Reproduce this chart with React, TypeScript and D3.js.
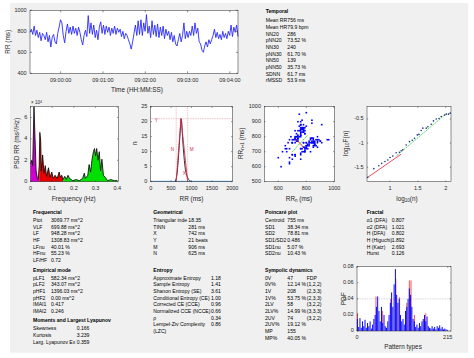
import React from "react";
import * as d3 from "d3";

// ---------------- data ----------------
const recordingStart = new Date(2020, 0, 1, 8, 59, 16, 500);
const recordingSeconds = 295;
const rrValues = [
  790, 820, 770, 850, 760, 810, 740, 790, 710, 780,
  760, 720, 790, 700, 760, 650, 740, 770, 700, 680,
  780, 840, 910, 880, 760, 690, 800, 870, 780, 840,
  770, 850, 780, 830, 760, 840, 790, 720, 670, 760,
  810, 750, 950, 780, 880, 770, 860, 740, 810, 720,
  840, 890, 780, 860, 770, 850, 790, 840, 760, 830,
  780, 850, 770, 830, 790, 820, 750, 800, 730, 780,
  760, 720, 680, 630, 700, 780, 860, 760, 900, 770,
  910, 760, 880, 800, 960, 780, 850, 740, 900, 770,
  860, 750, 870, 740, 840, 760, 850, 730, 820, 760,
  800, 720, 790, 700, 760, 680, 660, 720, 780, 700,
  760, 880, 730, 800, 740, 800, 760, 850, 760, 880,
  780, 830, 700, 680, 620, 600, 660, 700, 650, 720,
  680, 720, 760, 820, 740, 790, 730, 770, 720, 800,
  740, 780, 730, 800, 760, 860, 750, 840, 790, 860,
  750,
];
const rrTicks = [400, 600, 800, 1000];

const temporalLabels = ["Mean RR", "Mean HR", "NN20", "pNN20", "NN30", "pNN30", "NN50", "pNN50", "SDNN", "rMSSD"];
const temporalValues = ["756 ms", "79.9 bpm", "286", "73.52 %", "240", "61.70 %", "139", "35.73 %", "61.7 ms", "53.9 ms"];

const psdFreq = [
  0, 0.006, 0.01, 0.016, 0.021, 0.026, 0.032, 0.036, 0.04, 0.043, 0.047, 0.05, 0.056, 0.062, 0.068, 0.074,
  0.083, 0.09, 0.098, 0.105, 0.113, 0.123, 0.132, 0.138, 0.144, 0.15, 0.158, 0.165, 0.173, 0.18, 0.188,
  0.195, 0.21, 0.225, 0.24, 0.248, 0.253, 0.264, 0.27, 0.277, 0.283, 0.29, 0.295, 0.3, 0.305, 0.311,
  0.317, 0.323, 0.329, 0.336, 0.345, 0.355, 0.37, 0.386, 0.4,
];
const psdPower = [
  1.7, 2.0, 1.5, 7.0, 4.0, 1.0, 0.3, 0.2, 1.5, 4.6, 3.8, 1.0, 2.5, 0.8, 1.5, 0.5,
  1.3, 0.4, 0.9, 0.3, 0.6, 0.3, 0.9, 0.4, 0.6, 0.2, 0.5, 0.2, 0.6, 0.3, 0.2,
  0.1, 0.2, 0.1, 0.3, 0.8, 0.3, 0.6, 1.6, 0.9, 2.0, 2.8, 3.1, 2.4, 3.1, 2.0,
  2.8, 1.0, 2.1, 0.6, 0.4, 0.1, 0.2, 0.1, 0.1,
];
const bandNames = ["VLF", "LF", "HF"];
const bandLimits = [[0, 0.04], [0.04, 0.15], [0.15, 0.4]];
const bandColors = ["#d000d0", "#e80000", "#00e000"];
const psdYTicks = [0, 2, 4, 6];
const psdXTicks = [0, 0.1, 0.2, 0.3, 0.4];

const histRR = [600, 625, 650, 675, 700, 725, 742, 760, 780, 800, 825, 850, 875, 900, 925, 950, 975, 1000];
const histCount = [0, 1, 3, 7, 12, 17, 21, 20, 15, 11, 7, 4, 2.5, 1.5, 0.8, 0.4, 0.2, 0];
const triN = 625, triX = 742, triM = 906, triY = 21;
const histXTicks = [0, 500, 1000, 1500, 2000];
const histYTicks = [0, 5, 10, 15, 20, 25];

const poincareTicksX = [600, 800, 1000];
const poincareTicksY = [500, 600, 700, 800, 900, 1000];
const centroid = 755, sd1 = 38.34, sd2 = 78.81;

const dfaLogN = [0.6, 0.71, 0.8, 0.85, 0.91, 0.96, 1.0, 1.05, 1.11, 1.17, 1.2, 1.23, 1.29, 1.35, 1.4, 1.44, 1.49, 1.52, 1.56, 1.59, 1.65, 1.68, 1.74, 1.78, 1.83, 1.88, 1.92, 1.98, 2.01, 2.05, 2.08];
const dfaLogF = [-1.71, -1.53, -1.47, -1.42, -1.38, -1.35, -1.3, -1.27, -1.2, -1.19, -1.16, -1.14, -1.04, -0.97, -0.94, -0.9, -0.83, -0.82, -0.74, -0.69, -0.69, -0.66, -0.61, -0.54, -0.5, -0.49, -0.45, -0.42, -0.4, -0.4, -0.38];
const dfaFit1 = [[0.6, -1.71], [1.2, -1.23]];
const dfaFit2 = [[1.12, -1.26], [2.0, -0.4]];
const dfaXTicks = [1, 1.5, 2];
const dfaYTicks = [-0.5, -1, -1.5];

const pdfBlue = [
  0.015, 0.005, 0.016, 0.004, 0.012, 0.006, 0.014, 0.004, 0.01, 0.006, 0.012, 0.003,
  0.008, 0.015, 0.02, 0.03, 0.043, 0.025, 0.012, 0.03, 0.01, 0.02, 0.006, 0.004,
  0.012, 0.02, 0.035, 0.048, 0.03, 0.058, 0.077, 0.045, 0.035, 0.04, 0.02, 0.012,
  0.015, 0.008, 0.025, 0.03, 0.04, 0.053, 0.045, 0.03, 0.015, 0.012, 0.005, 0.008,
  0.004, 0.01, 0.006, 0.012, 0.015, 0.02, 0.012, 0.018, 0.006, 0.004, 0.003, 0.006,
  0.003, 0.005, 0.002, 0.006, 0.004, 0.007, 0.003, 0.005, 0.002, 0.003, 0.002, 0.001,
];
const pdfRedPattern = [1, 45, 60, 80, 92, 101, 118, 124, 128, 136, 163];
const pdfRedValue = [0.022, 0.043, 0.025, 0.04, 0.065, 0.042, 0.035, 0.063, 0.063, 0.02, 0.022];
const pdfThreshold = 0.04;
const pdfYTicks = [0, 0.02, 0.04, 0.06, 0.08];
const pdfXTicks = [0, 215];

const freqLabels = ["Ptot", "VLF", "LF", "HF", "LFnu", "HFnu", "LF/HF"];
const freqValues = ["3069.77 ms^2", "699.88 ms^2", "948.28 ms^2", "1308.83 ms^2", "40.01 %", "55.23 %", "0.72"];
const empLabels = ["pLF1", "pLF2", "pHF1", "pHF2", "IMAI1", "IMAI2"];
const empValues = ["582.34 ms^2", "343.07 ms^2", "1396.03 ms^2", "0.00 ms^2", "0.417", "0.246"];
const momLabels = ["Skewness", "Kurtosis", "Larg. Lyapunov Ex"];
const momValues = ["0.166", "3.239", "0.359"];
const geoLabels = ["Triangular inde", "TINN", "X", "Y", "M", "N"];
const geoValues = ["18.35", "281 ms", "742 ms", "21 beats", "906 ms", "625 ms"];
const entLabels = ["Approximate Entropy", "Sample Entropy", "Shanon Entropy (SE)", "Conditional Entropy (CE)", "Corrected CE (CCE)", "Normalized CCE (NCCE)", "ρ", "Lempel-Ziv Complexity", "(LZC)"];
const entValues = ["1.18", "1.41", "3.61", "1.00", "0.96", "0.66", "0.34", "0.86", ""];
const poiLabels = ["Centroid", "SD1", "SD2", "SD1/SD2", "SD1nu", "SD2nu"];
const poiValues = ["755 ms", "38.34 ms", "78.81 ms", "0.486", "5.07 %", "10.43 %"];
const symLabels = ["0V", "0V%", "1V", "1V%", "2LV", "2LV%", "2UV", "2UV%", "MP", "MP%"];
const symValues = ["47", "12.14 %", "208", "53.75 %", "58", "14.99 %", "74", "19.12 %", "155", "40.05 %"];
const symPatterns = ["FDP", "(1,2,2)", "(2,3,3)", "(2,3,3)", "(3,2,2)", "(3,3,3)", "(3,2,2)", "", "", ""];
const fracLabels = ["α1 (DFA)", "α2 (DFA)", "H (DFA)", "H (Higuchi)", "H (Katz)", "Hurst"];
const fracValues = ["0.807", "1.021", "0.802", "1.892", "2.693", "0.126"];

// ---------------- helpers ----------------
const FONT = "Liberation Sans, Arial, Helvetica, sans-serif";
const AX = "#262626";
const TICK_FS = 5.5;
const LABEL_FS = 6.4;
const TEXT_FS = 5.1;

type FrameProps = {
  x0: number; x1: number; y0: number; y1: number;
  xs: (v: any) => number; ys: (v: number) => number;
  xTicks: any[]; yTicks: number[];
  xFmt?: (v: any) => string; yFmt?: (v: number) => string;
  tl?: number;
};

function Frame({ x0, x1, y0, y1, xs, ys, xTicks, yTicks, xFmt = String, yFmt = String, tl = 1.2 }: FrameProps) {
  return (
    <g>
      {xTicks.map((t, i) => {
        const x = xs(t);
        return (
          <g key={"x" + i}>
            <line x1={x} x2={x} y1={y1} y2={y1 - tl} stroke={AX} strokeWidth={0.5} />
            <line x1={x} x2={x} y1={y0} y2={y0 + tl} stroke={AX} strokeWidth={0.5} />
            <text x={x} y={y1 + 6.8} fontSize={TICK_FS} fill={AX} textAnchor="middle" dominantBaseline="middle">{xFmt(t)}</text>
          </g>
        );
      })}
      {yTicks.map((t, i) => {
        const y = ys(t);
        return (
          <g key={"y" + i}>
            <line x1={x0} x2={x0 + tl} y1={y} y2={y} stroke={AX} strokeWidth={0.5} />
            <line x1={x1} x2={x1 - tl} y1={y} y2={y} stroke={AX} strokeWidth={0.5} />
            <text x={x0 - 3.3} y={y} fontSize={TICK_FS} fill={AX} textAnchor="end" dominantBaseline="middle">{yFmt(t)}</text>
          </g>
        );
      })}
      <rect x={x0} y={y0} width={x1 - x0} height={y1 - y0} fill="none" stroke={AX} strokeWidth={0.5} />
    </g>
  );
}

function XLabel({ x, y, children }: any) {
  return <text x={x} y={y} fontSize={LABEL_FS} fill={AX} textAnchor="middle" dominantBaseline="middle">{children}</text>;
}
function YLabel({ x, y, children }: any) {
  return (
    <text transform={`translate(${x},${y}) rotate(-90)`} fontSize={LABEL_FS} fill={AX} textAnchor="middle" dominantBaseline="middle">{children}</text>
  );
}

// ---------------- charts ----------------
function TimeSeries() {
  const x0 = 30, x1 = 238, y0 = 10.3, y1 = 73.3;
  const end = new Date(recordingStart.getTime() + recordingSeconds * 1000);
  const xs = d3.scaleTime().domain([recordingStart, end]).range([x0, x1]);
  const ys = d3.scaleLinear().domain([400, 1000]).range([y1, y0]);
  const step = (recordingSeconds * 1000) / (rrValues.length - 1);
  const pts: [Date, number][] = rrValues.map((v, i) => [new Date(recordingStart.getTime() + i * step), v]);
  const line = d3.line<[Date, number]>().x((d) => xs(d[0])).y((d) => ys(d[1]));
  const ticks = xs.ticks(d3.timeMinute.every(1) as any);
  const fmt = d3.timeFormat("%H:%M:%S");
  return (
    <g>
      <rect x={x0} y={y0} width={x1 - x0} height={y1 - y0} fill="#fff" />
      <path d={line(pts) || ""} fill="none" stroke="#2a2aff" strokeWidth={0.9} strokeLinejoin="round" />
      <Frame x0={x0} x1={x1} y0={y0} y1={y1} xs={xs as any} ys={ys} xTicks={ticks} yTicks={rrTicks} xFmt={fmt as any} tl={2} />
      <XLabel x={(x0 + x1) / 2 + 3} y={90}>Time (HH:MM:SS)</XLabel>
      <YLabel x={8.6} y={(y0 + y1) / 2}>RR (ms)</YLabel>
    </g>
  );
}

function Psd() {
  const x0 = 30.5, x1 = 118.3, y0 = 106.7, y1 = 181.7;
  const xs = d3.scaleLinear().domain([0, 0.4]).range([x0, 117.3]);
  const ys = d3.scaleLinear().domain([0, 7]).range([y1, y0]);
  const pts = psdFreq.map((f, i) => [f, psdPower[i]] as [number, number]);
  const area = d3.area<[number, number]>().x((d) => xs(d[0])).y0(ys(0)).y1((d) => ys(d[1]));
  const line = d3.line<[number, number]>().x((d) => xs(d[0])).y((d) => ys(d[1]));
  return (
    <g>
      <rect x={x0} y={y0} width={x1 - x0} height={y1 - y0} fill="#fff" />
      {bandLimits.map(([lo, hi], i) => {
        const seg = pts.filter((p) => p[0] >= lo && p[0] <= hi);
        return <path key={bandNames[i]} d={area(seg) || ""} fill={bandColors[i]} stroke="none" />;
      })}
      <path d={line(pts) || ""} fill="none" stroke="#000" strokeWidth={0.8} />
      <Frame x0={x0} x1={x1} y0={y0} y1={y1} xs={xs} ys={ys} xTicks={psdXTicks} yTicks={psdYTicks} />
      <text x={31} y={104.2} fontSize={4.6} fill={AX}>× 10<tspan dy={-1.6} fontSize={3.6}>4</tspan></text>
      <XLabel x={73.7} y={199}>Frequency (Hz)</XLabel>
      <YLabel x={17.3} y={143.3}>PSD RR (ms<tspan dy={-1.8} fontSize={4.4}>2</tspan><tspan dy={1.8}>/Hz)</tspan></YLabel>
    </g>
  );
}

function Hist() {
  const x0 = 150.7, x1 = 232.3, y0 = 106.7, y1 = 181.7;
  const xs = d3.scaleLinear().domain([0, 2000]).range([x0, x1]);
  const ys = d3.scaleLinear().domain([0, 25]).range([y1, y0]);
  const pts = histRR.map((r, i) => [r, histCount[i]] as [number, number]);
  const line = d3.line<[number, number]>().x((d) => xs(d[0])).y((d) => ys(d[1]));
  const tri: [number, number][] = [[triN, 0], [triX, triY], [triM, 0]];
  const red = "#d42a4e";
  return (
    <g>
      <rect x={x0} y={y0} width={x1 - x0} height={y1 - y0} fill="#fff" />
      <line x1={xs(0)} x2={xs(2000)} y1={ys(0) - 0.4} y2={ys(0) - 0.4} stroke="#4fa3e0" strokeWidth={0.9} />
      <line x1={x0} x2={x1} y1={ys(triY)} y2={ys(triY)} stroke="#e06070" strokeWidth={0.5} strokeDasharray="0.8,0.9" />
      <line x1={xs(triN)} x2={xs(triN)} y1={y0} y2={y1} stroke="#e06070" strokeWidth={0.5} strokeDasharray="0.8,0.9" />
      <line x1={xs(triM)} x2={xs(triM)} y1={y0} y2={y1} stroke="#e06070" strokeWidth={0.5} strokeDasharray="0.8,0.9" />
      <path d={line(pts) || ""} fill="none" stroke="#333" strokeWidth={1} />
      <path d={line(tri) || ""} fill="none" stroke={red} strokeWidth={0.9} />
      <text x={xs(100)} y={ys(20.3)} fontSize={4.6} fill={red} dominantBaseline="middle">Y</text>
      <text x={xs(triN) - 2} y={ys(10.5)} fontSize={4.6} fill={red} textAnchor="end" dominantBaseline="middle">N</text>
      <text x={xs(triM) + 2} y={ys(10.5)} fontSize={4.6} fill={red} dominantBaseline="middle">M</text>
      <text x={xs(825)} y={ys(2.5)} fontSize={4.6} fill={red} textAnchor="middle" dominantBaseline="middle">X</text>
      <Frame x0={x0} x1={x1} y0={y0} y1={y1} xs={xs} ys={ys} xTicks={histXTicks} yTicks={histYTicks} />
      <XLabel x={191.5} y={199}>RR (ms)</XLabel>
      <YLabel x={135} y={143.3}>n</YLabel>
    </g>
  );
}

function Poincare() {
  const x0 = 264.3, x1 = 334.3, y0 = 106.7, y1 = 181.7;
  const xs = d3.scaleLinear().domain([500, 1000]).range([x0, x1]);
  const ys = d3.scaleLinear().domain([500, 1000]).range([y1, y0]);
  const pairs = d3.pairs(rrValues);
  const a2 = sd2 / Math.SQRT2, a1 = sd1 / Math.SQRT2;
  return (
    <g>
      <rect x={x0} y={y0} width={x1 - x0} height={y1 - y0} fill="#fff" />
      {pairs.map(([a, b], i) => (
        <rect key={i} x={xs(a) - 0.8} y={ys(b) - 0.8} width={1.6} height={1.6} fill="#0000ff" />
      ))}
      <line x1={xs(centroid - a2)} y1={ys(centroid - a2)} x2={xs(centroid + a2)} y2={ys(centroid + a2)} stroke="#00d000" strokeWidth={0.8} strokeDasharray="1.5,0.8" />
      <line x1={xs(centroid - a1)} y1={ys(centroid + a1)} x2={xs(centroid + a1)} y2={ys(centroid - a1)} stroke="#e00000" strokeWidth={0.8} />
      <Frame x0={x0} x1={x1} y0={y0} y1={y1} xs={xs} ys={ys} xTicks={poincareTicksX} yTicks={poincareTicksY} />
      <XLabel x={299} y={199}>RR<tspan dy={1.5} fontSize={4.5}>n</tspan><tspan dy={-1.5}> (ms)</tspan></XLabel>
      <YLabel x={241.7} y={143.3}>RR<tspan dy={1.5} fontSize={4.5}>n+1</tspan><tspan dy={-1.5}> (ms)</tspan></YLabel>
    </g>
  );
}

function Dfa() {
  const x0 = 367, x1 = 451, y0 = 106.7, y1 = 181.7;
  const xs = d3.scaleLinear().domain([0.587, 2.095]).range([x0, x1]);
  const ys = d3.scaleLinear().domain([-1.8, -0.246]).range([y1, y0]);
  const line = d3.line<number[]>().x((d) => xs(d[0])).y((d) => ys(d[1]));
  return (
    <g>
      <rect x={x0} y={y0} width={x1 - x0} height={y1 - y0} fill="#fff" />
      <path d={line(dfaFit1) || ""} stroke="#e02040" strokeWidth={0.8} fill="none" />
      <path d={line(dfaFit2) || ""} stroke="#20d040" strokeWidth={0.8} strokeDasharray="1.6,0.8" fill="none" />
      {dfaLogN.map((n, i) => (
        <circle key={i} cx={xs(n)} cy={ys(dfaLogF[i])} r={0.8} fill="#1c2f7a" />
      ))}
      <Frame x0={x0} x1={x1} y0={y0} y1={y1} xs={xs} ys={ys} xTicks={dfaXTicks} yTicks={dfaYTicks} />
      <XLabel x={407} y={199}>log<tspan dy={1.5} fontSize={4.5}>10</tspan><tspan dy={-1.5}>(n)</tspan></XLabel>
      <YLabel x={346} y={143.3}>log<tspan dy={1.5} fontSize={4.5}>10</tspan><tspan dy={-1.5}>F(n)</tspan></YLabel>
    </g>
  );
}

function Pdf() {
  const x0 = 357, x1 = 451, y0 = 266.7, y1 = 331;
  const xs = d3.scaleLinear().domain([0, 222.8]).range([x0, x1]);
  const ys = d3.scaleLinear().domain([0, 0.08]).range([y1, y0]);
  return (
    <g>
      <rect x={x0} y={y0} width={x1 - x0} height={y1 - y0} fill="#fff" />
      <line x1={x0} x2={x1} y1={ys(pdfThreshold)} y2={ys(pdfThreshold)} stroke="#999" strokeWidth={0.5} strokeDasharray="0.8,0.9" />
      {pdfRedPattern.map((p, i) => (
        <rect key={"r" + i} x={xs(p) - 0.45} y={ys(pdfRedValue[i])} width={0.9} height={ys(0) - ys(pdfRedValue[i])} fill="#f04040" />
      ))}
      {pdfBlue.map((v, k) => (
        <rect key={"b" + k} x={xs(3 * k + 1) - 0.5} y={ys(v)} width={1.0} height={ys(0) - ys(v)} fill="#0a0aff" />
      ))}
      <Frame x0={x0} x1={x1} y0={y0} y1={y1} xs={xs} ys={ys} xTicks={pdfXTicks} yTicks={pdfYTicks} />
      <XLabel x={403} y={347.3}>Pattern types</XLabel>
      <YLabel x={344.3} y={298.8}>PDF</YLabel>
    </g>
  );
}

// ---------------- text blocks ----------------
function Block({ title, x, vx, ty, y, labels, values, extra, ex }: any) {
  const dy = 6.67;
  return (
    <g fontSize={TEXT_FS} fill="#000">
      <text x={x} y={ty} fontWeight="bold" dominantBaseline="middle">{title}</text>
      {labels.map((l: string, i: number) => (
        <g key={i}>
          <text x={x} y={y + i * dy} dominantBaseline="middle">{l}</text>
          <text x={vx} y={y + i * dy} dominantBaseline="middle">{values[i]}</text>
          {extra && extra[i] ? <text x={ex} y={y + i * dy} dominantBaseline="middle">{extra[i]}</text> : null}
        </g>
      ))}
    </g>
  );
}

export default function App() {
  return (
    <svg width={474} height={358} style={{ position: "absolute", left: 0, top: 0, background: "#fff" }} fontFamily={FONT}>
      <rect x={10} y={3} width={458.3} height={349.7} fill="#f0f0f0" />
      <TimeSeries />
      <Block title="Temporal" x={265.7} vx={287.3} ty={12} y={21} labels={temporalLabels} values={temporalValues} />
      <Psd />
      <Hist />
      <Poincare />
      <Dfa />
      <Block title="Frequencial" x={33} vx={51} ty={212.7} y={220.7} labels={freqLabels} values={freqValues} />
      <Block title="Empirical mode" x={33} vx={51} ty={270.7} y={278.3} labels={empLabels} values={empValues} />
      <Block title="Moments and Largest Lyapunov" x={33} vx={76.7} ty={320.7} y={329} labels={momLabels} values={momValues} />
      <Block title="Geometrical" x={153.3} vx={188.3} ty={212.7} y={220.7} labels={geoLabels} values={geoValues} />
      <Block title="Entropy" x={153.3} vx={211} ty={270.7} y={278.3} labels={entLabels} values={entValues} />
      <Block title="Poincaré plot" x={265} vx={287.3} ty={212.7} y={220.7} labels={poiLabels} values={poiValues} />
      <Block title="Sympolic dynamics" x={265} vx={287.3} ty={270.7} y={278.3} labels={symLabels} values={symValues} extra={symPatterns} ex={306.7} />
      <Block title="Fractal" x={366.7} vx={391.7} ty={212.7} y={220.7} labels={fracLabels} values={fracValues} />
      <Pdf />
    </svg>
  );
}
